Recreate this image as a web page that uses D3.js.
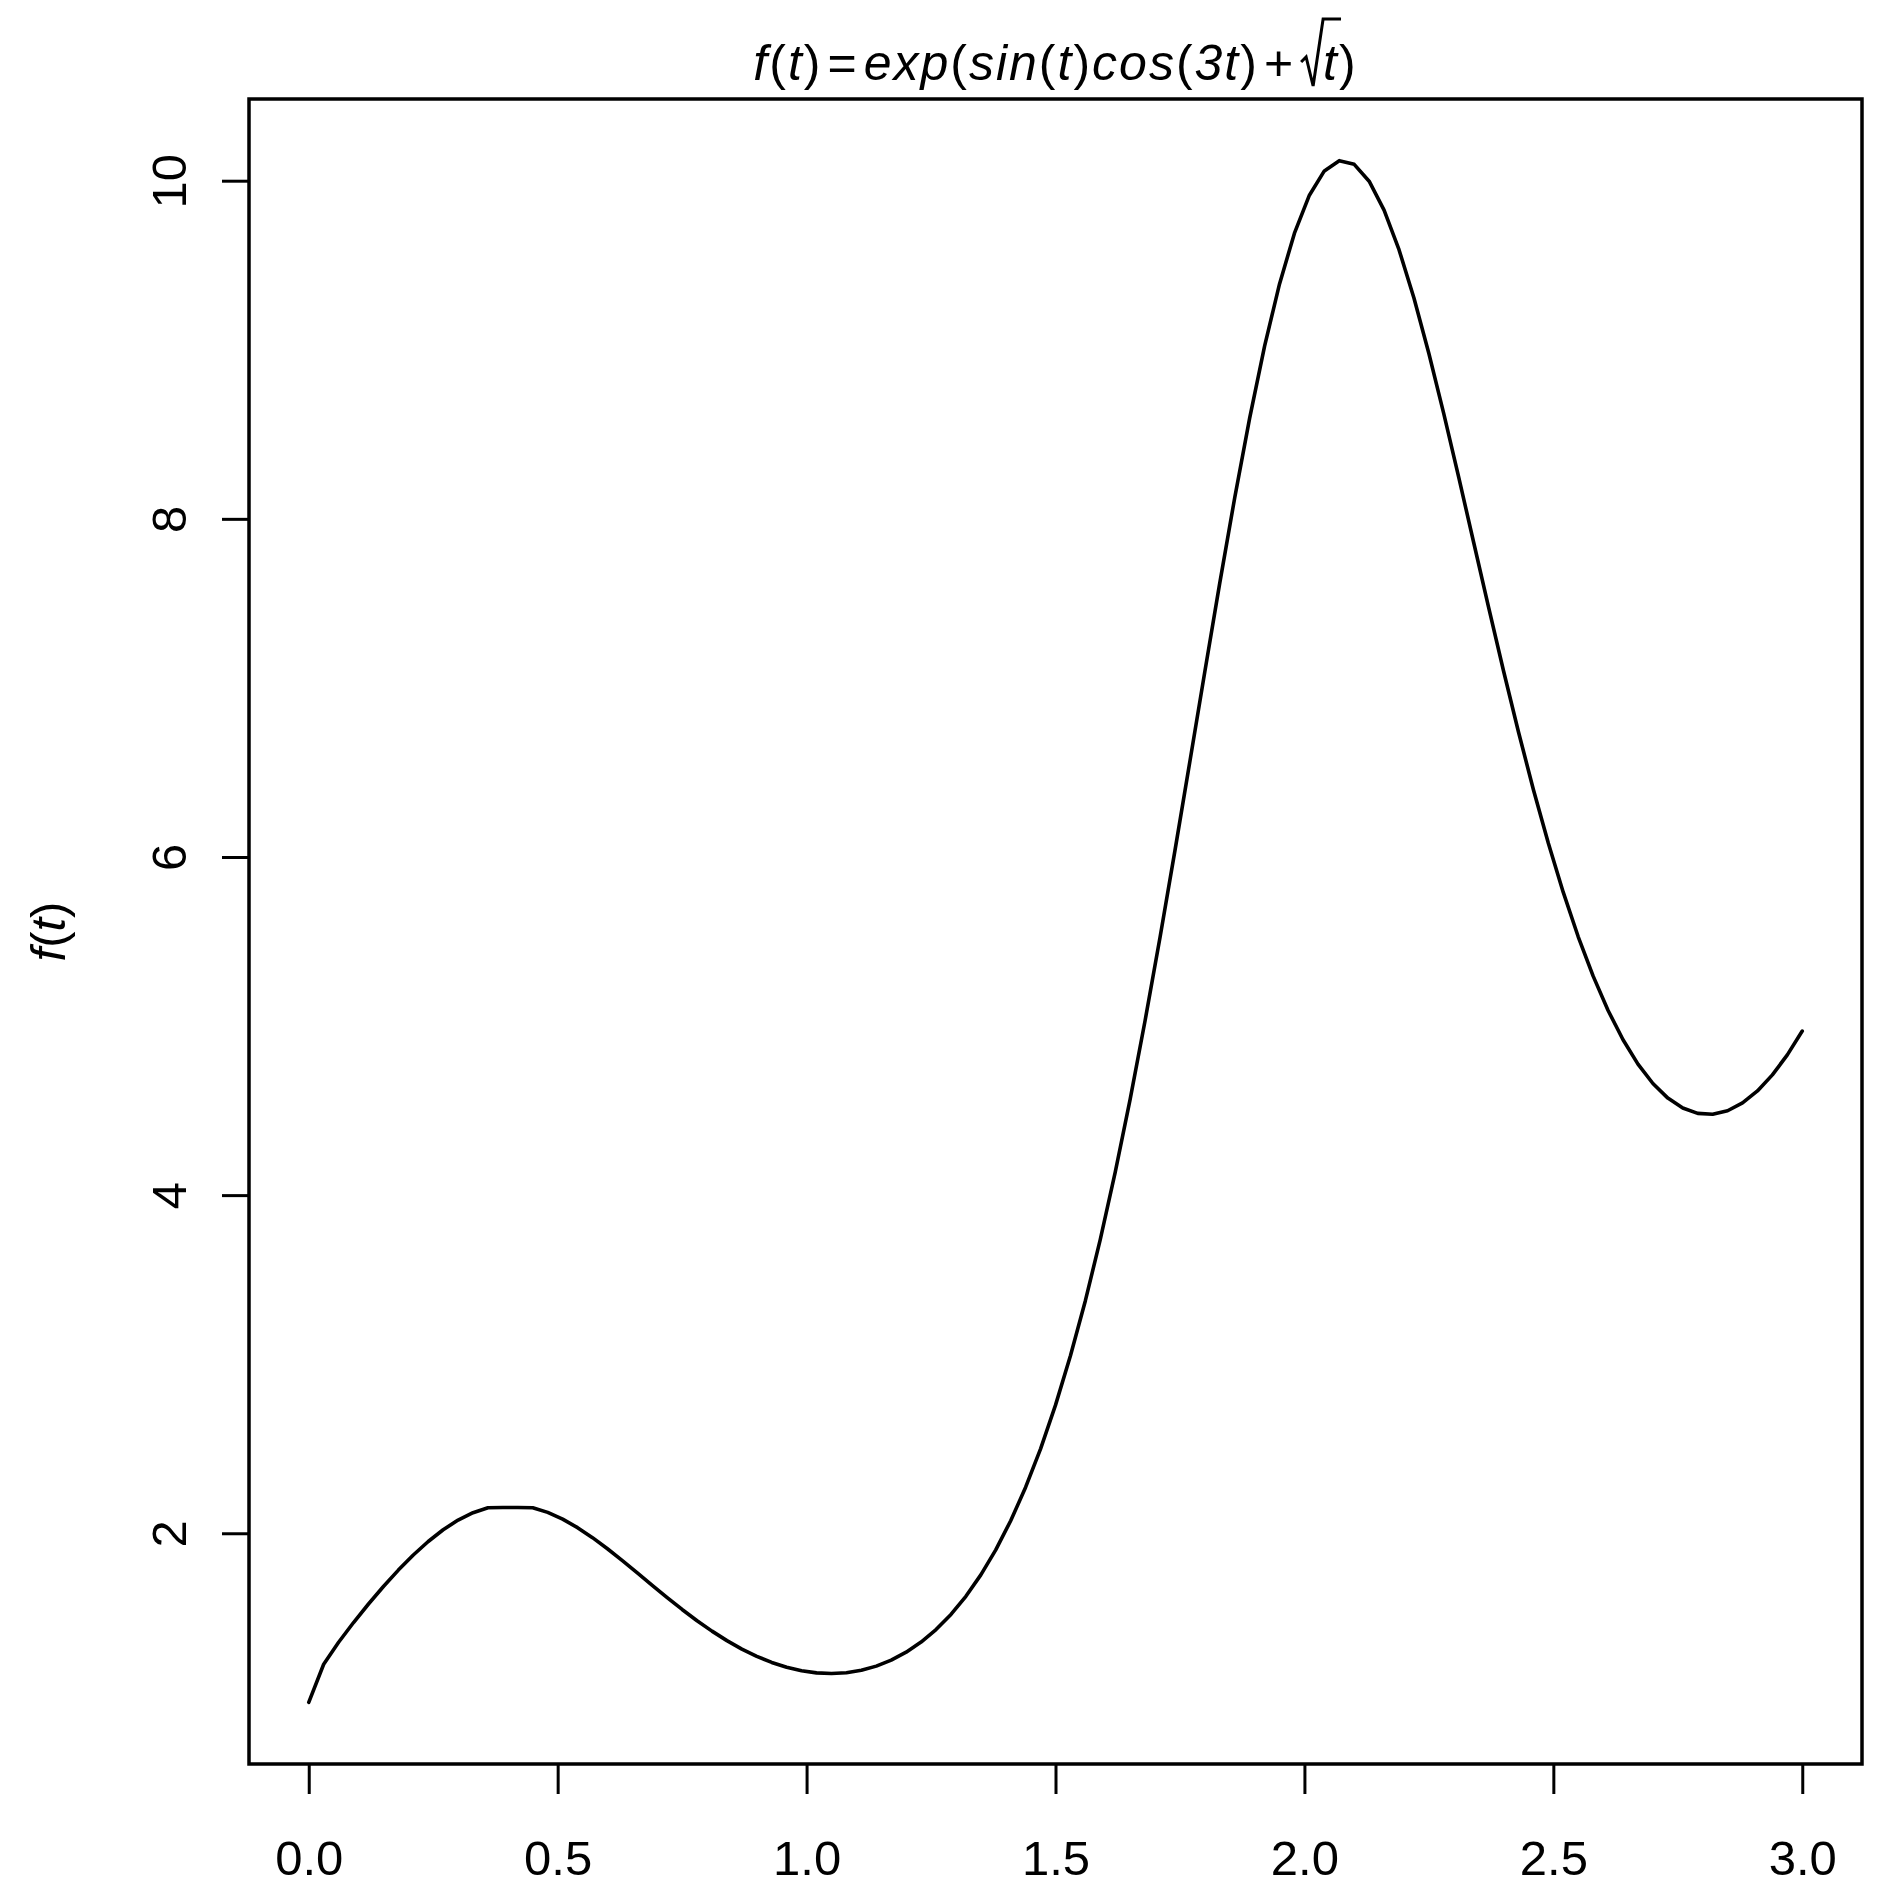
<!DOCTYPE html>
<html>
<head>
<meta charset="utf-8">
<script src="https://cdn.jsdelivr.net/npm/d3@7"></script>
<style>
  body { margin: 0; background: #fff; }
  svg { display: block; }
  text { font-family: "Liberation Sans", Arial, Helvetica, sans-serif; fill: #000; }
</style>
</head>
<body>
<svg id="chart" width="1884" height="1902"></svg>
<script>
// sample points (t step 0.03)
const tValues = [
  0.00, 0.03, 0.06, 0.09, 0.12, 0.15, 0.18, 0.21, 0.24, 0.27,
  0.30, 0.33, 0.36, 0.39, 0.42, 0.45, 0.48, 0.51, 0.54, 0.57,
  0.60, 0.63, 0.66, 0.69, 0.72, 0.75, 0.78, 0.81, 0.84, 0.87,
  0.90, 0.93, 0.96, 0.99, 1.02, 1.05, 1.08, 1.11, 1.14, 1.17,
  1.20, 1.23, 1.26, 1.29, 1.32, 1.35, 1.38, 1.41, 1.44, 1.47,
  1.50, 1.53, 1.56, 1.59, 1.62, 1.65, 1.68, 1.71, 1.74, 1.77,
  1.80, 1.83, 1.86, 1.89, 1.92, 1.95, 1.98, 2.01, 2.04, 2.07,
  2.10, 2.13, 2.16, 2.19, 2.22, 2.25, 2.28, 2.31, 2.34, 2.37,
  2.40, 2.43, 2.46, 2.49, 2.52, 2.55, 2.58, 2.61, 2.64, 2.67,
  2.70, 2.73, 2.76, 2.79, 2.82, 2.85, 2.88, 2.91, 2.94, 2.97,
  3.00
];
const fValues = [
  1.0000, 1.2252, 1.3552, 1.4720, 1.5816, 1.6852, 1.7822, 1.8714, 1.9515, 2.0209,
  2.0780, 2.1218, 2.1512, 2.1520, 2.1520, 2.1513, 2.1235, 2.0835, 2.0331, 1.9741,
  1.9085, 1.8383, 1.7655, 1.6920, 1.6195, 1.5494, 1.4829, 1.4212, 1.3650, 1.3151,
  1.2719, 1.2359, 1.2074, 1.1868, 1.1743, 1.1704, 1.1753, 1.1897, 1.2142, 1.2494,
  1.2965, 1.3563, 1.4304, 1.5201, 1.6273, 1.7539, 1.9020, 2.0741, 2.2725, 2.4996,
  2.7579, 3.0494, 3.3758, 3.7379, 4.1358, 4.5684, 5.0330, 5.5252, 6.0390, 6.5663,
  7.0975, 7.6211, 8.1249, 8.5959, 9.0213, 9.3894, 9.6897, 9.9143, 10.0580, 10.1185,
  10.0969, 9.9971, 9.8259, 9.5921, 9.3059, 8.9784, 8.6211, 8.2449, 7.8602, 7.4760,
  7.1001, 6.7391, 6.3981, 6.0809, 5.7903, 5.5281, 5.2952, 5.0922, 4.9189, 4.7751,
  4.6603, 4.5739, 4.5151, 4.4835, 4.4783, 4.4991, 4.5452, 4.6161, 4.7111, 4.8295,
  4.9703
];

const xTicks = [0, 0.5, 1, 1.5, 2, 2.5, 3];
const xTickLabels = ["0.0", "0.5", "1.0", "1.5", "2.0", "2.5", "3.0"];
const yTicks = [2, 4, 6, 8, 10];
const yTickLabels = ["2", "4", "6", "8", "10"];

const points = tValues.map((t, i) => ({ t: t, f: fValues[i] }));

// plot region (R style box)
const minx = 249, maxx = 1862;
const miny = 99, maxy = 1764;
const fontSize = 49;

// R pads both axes by 4%
let tExt = d3.extent(tValues);
let fExt = d3.extent(fValues);
let tPad = (tExt[1] - tExt[0]) * 0.04;
let fPad = (fExt[1] - fExt[0]) * 0.04;

let xScale = d3.scaleLinear()
  .domain([tExt[0] - tPad, tExt[1] + tPad])
  .range([minx, maxx]);
let yScale = d3.scaleLinear()
  .domain([fExt[0] - fPad, fExt[1] + fPad])
  .range([maxy, miny]);

let svg = d3.select("#chart");
svg.append("rect")
  .attr("width", 1884).attr("height", 1902).attr("fill", "#fff");

// x axis
let x_axis = d3.axisBottom(xScale)
  .tickValues(xTicks)
  .tickFormat((d, i) => xTickLabels[i])
  .tickSize(30);
let gx = svg.append("g")
  .attr("transform", `translate(0, ${maxy})`)
  .call(x_axis);
gx.select(".domain").remove();
gx.selectAll(".tick line").attr("stroke", "#000").attr("stroke-width", 3);
gx.selectAll(".tick text")
  .attr("y", 111).attr("dy", null)
  .attr("font-size", fontSize)
  .style("font-family", '"Liberation Sans", Arial, sans-serif');

// y axis, labels turned like R's las=0
let y_axis = d3.axisLeft(yScale)
  .tickValues(yTicks)
  .tickFormat((d, i) => yTickLabels[i])
  .tickSize(27);
let gy = svg.append("g")
  .attr("transform", `translate(${minx}, 0)`)
  .call(y_axis);
gy.select(".domain").remove();
gy.selectAll(".tick line").attr("stroke", "#000").attr("stroke-width", 3);
gy.selectAll(".tick text")
  .attr("x", null).attr("dy", null)
  .attr("text-anchor", "middle")
  .attr("transform", "translate(-63,0) rotate(-90)")
  .attr("font-size", fontSize)
  .style("font-family", '"Liberation Sans", Arial, sans-serif');

// the curve
let line = d3.line()
  .x(d => xScale(d.t))
  .y(d => yScale(d.f));
svg.append("path")
  .attr("fill", "none")
  .attr("stroke", "#000")
  .attr("stroke-width", 3.6)
  .attr("stroke-linejoin", "round")
  .attr("stroke-linecap", "round")
  .attr("d", line(points));

// box
svg.append("rect")
  .attr("x", minx).attr("y", miny)
  .attr("width", maxx - minx).attr("height", maxy - miny)
  .attr("fill", "none")
  .attr("stroke", "#000")
  .attr("stroke-width", 3.5);

// y label f(t)
let ylab = svg.append("text")
  .attr("transform", `translate(65, ${(miny + maxy) / 2}) rotate(-90)`)
  .attr("text-anchor", "middle")
  .attr("font-size", fontSize);
ylab.append("tspan").attr("font-style", "italic").text("f");
ylab.append("tspan").text("(");
ylab.append("tspan").attr("font-style", "italic").text("t");
ylab.append("tspan").text(")");

// title f(t) = exp(sin(t)cos(3t) + sqrt(t))
let titleBase = 80;
let titleParts = [
  ["f", 1, 0], ["(", 0, 0], ["t", 1, 0], [")", 0, 0],
  ["=", 0, 5], ["exp", 1, 5], ["(", 0, 0], ["sin", 1, 0], ["(", 0, 0], ["t", 1, 0], [")", 0, 0],
  ["cos", 1, 0], ["(", 0, 0], ["3t", 1, 0], [")", 0, 0],
  ["+", 0, 5]
];
let gTitle = svg.append("g");
let title1 = gTitle.append("text")
  .attr("y", titleBase)
  .attr("font-size", 50)
  .attr("letter-spacing", 2);
titleParts.forEach(p => {
  let ts = title1.append("tspan").attr("dx", p[2]).text(p[0]);
  if (p[1]) ts.attr("font-style", "italic");
});
let b1 = title1.node().getBBox();
let rx = b1.x + b1.width + 6;
let title2 = gTitle.append("text")
  .attr("x", rx + 22)
  .attr("y", titleBase)
  .attr("font-size", 50)
  .attr("letter-spacing", 2);
title2.append("tspan").attr("font-style", "italic").text("t");
title2.append("tspan").text(")");
let wt = title2.node().getSubStringLength(0, 1);
// radical drawn with strokes, as R's plotmath does
gTitle.append("path")
  .attr("d", `M${rx},62 L${rx + 5},57 L${rx + 12},86 L${rx + 22},19 L${rx + 22 + wt + 2},19`)
  .attr("fill", "none")
  .attr("stroke", "#000")
  .attr("stroke-width", 3)
  .attr("stroke-linejoin", "miter");
let bb = gTitle.node().getBBox();
gTitle.attr("transform", `translate(${(minx + maxx) / 2 - (bb.x + bb.width / 2)}, 0)`);
</script>
</body>
</html>
